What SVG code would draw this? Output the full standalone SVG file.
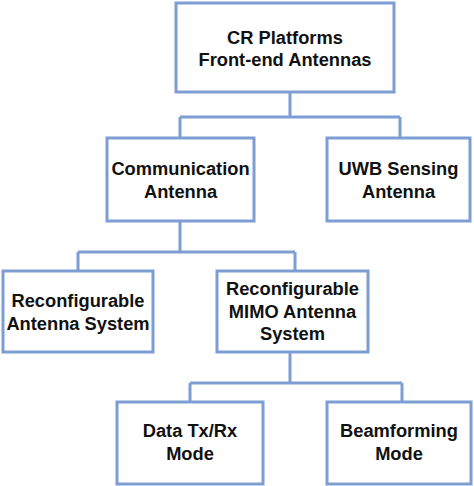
<svg xmlns="http://www.w3.org/2000/svg" width="474" height="486" viewBox="0 0 474 486">
<style>
.box{fill:#ffffff;stroke:#7d9dd3;stroke-width:3}
.ln{fill:none;stroke:#7d9dd3;stroke-width:3}
text{font-family:"Liberation Sans",Arial,sans-serif;font-weight:bold;font-size:18.3px;fill:#111;text-anchor:middle}
</style>
<rect width="474" height="486" fill="#ffffff"/>
<g id="connectors">
<path class="ln" d="M290 93V117M180 117H400M180 117V138M400 117V138"/>
<path class="ln" d="M180 221V252M78 252H295M78 252V271M295 252V271"/>
<path class="ln" d="M290 352V383M190 383H402M190 383V402M402 383V402"/>
</g>
<g id="n-top">
<rect class="box" x="176" y="3" width="218" height="89"/>
<text x="285" y="44">CR Platforms</text>
<text x="285" y="66">Front-end Antennas</text>
</g>
<g id="n-comm">
<rect class="box" x="107" y="138" width="147" height="83"/>
<text x="180.5" y="175">Communication</text>
<text x="180.5" y="197.5">Antenna</text>
</g>
<g id="n-uwb">
<rect class="box" x="327" y="138" width="143" height="83"/>
<text x="398.5" y="175">UWB Sensing</text>
<text x="398.5" y="197.5">Antenna</text>
</g>
<g id="n-reconf">
<rect class="box" x="3" y="271" width="150" height="81"/>
<text x="78" y="307">Reconfigurable</text>
<text x="78" y="329.5">Antenna System</text>
</g>
<g id="n-mimo">
<rect class="box" x="217" y="271" width="151" height="81"/>
<text x="292.5" y="295">Reconfigurable</text>
<text x="292.5" y="317.5">MIMO Antenna</text>
<text x="292.5" y="340">System</text>
</g>
<g id="n-data">
<rect class="box" x="117" y="402" width="146" height="82"/>
<text x="190" y="437">Data Tx/Rx</text>
<text x="190" y="459.5">Mode</text>
</g>
<g id="n-beam">
<rect class="box" x="327" y="402" width="144" height="82"/>
<text x="399" y="437">Beamforming</text>
<text x="399" y="459.5">Mode</text>
</g>
</svg>
